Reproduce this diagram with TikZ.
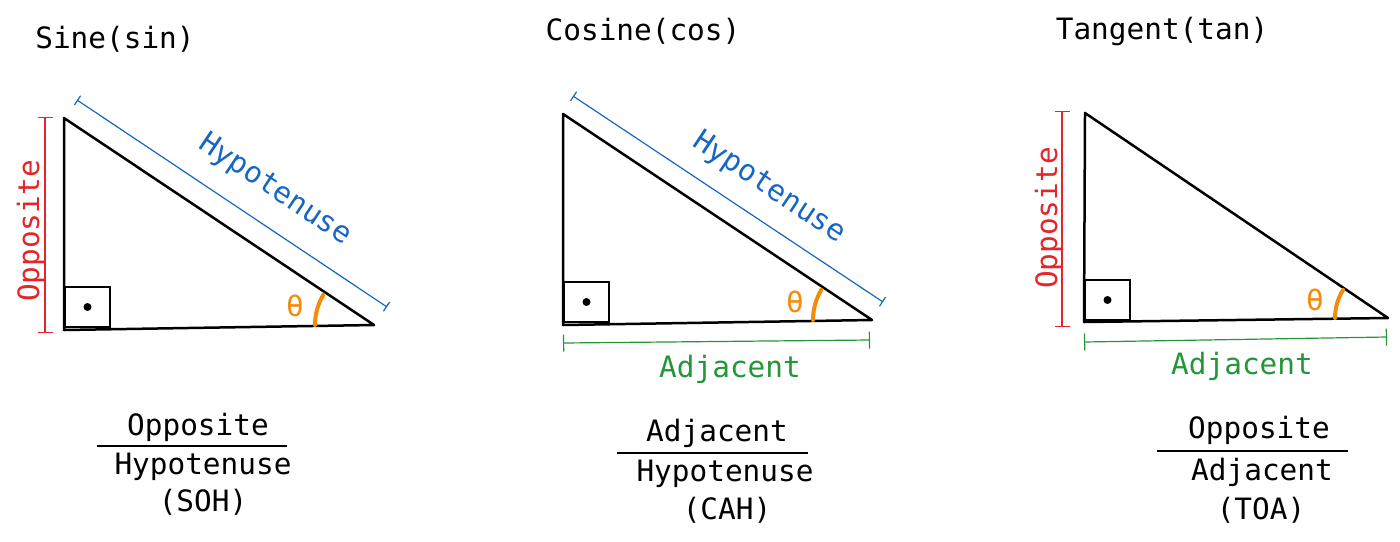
\documentclass[tikz,border=0pt]{standalone}
\usepackage{fontspec}
\setmonofont{DejaVu Sans Mono}
\usetikzlibrary{arrows.meta}
\definecolor{oppred}{RGB}{228,38,42}
\definecolor{hypblue}{RGB}{22,102,196}
\definecolor{adjgreen}{RGB}{36,150,56}
\definecolor{thetaorange}{RGB}{242,140,10}
\tikzset{
  txt/.style={font=\ttfamily\fontsize{14.7}{17}\selectfont, inner sep=0pt},
  side/.style={line width=1.25pt, line join=round},
  rightbox/.style={draw, line width=1pt, minimum width=22.5pt, minimum height=20pt, inner sep=0pt},
  oppdim/.style={draw=oppred, line width=0.6pt, {Bar[width=7.5pt]}-{Bar[width=7.5pt]}},
  hypdim/.style={draw=hypblue, line width=0.6pt, {Bar[width=5.5pt]}-{Bar[width=5.5pt]}},
  adjdim/.style={draw=adjgreen, line width=0.6pt, {Bar[width=8.5pt]}-{Bar[width=8.5pt]}},
  anglearc/.style={draw=thetaorange, line width=2pt, line cap=round},
  fracbar/.style={line width=0.6pt}
}
\begin{document}
\begin{tikzpicture}[x=0.5pt, y=-0.5pt]
  \useasboundingbox (0,0) rectangle (1400,541);

  % sine
  \node[txt] (sintitle) at (115,39) {Sine(sin)};
  \coordinate (sA) at (64,118);
  \coordinate (sB) at (64,330);
  \coordinate (sC) at (374,325);
  \draw[side] (sA) -- (sB) -- (sC) -- cycle;
  \node[rightbox, anchor=south west] (sbox) at (64,328) {};
  \fill (sbox.center) circle[radius=4];
  \coordinate (sopp1) at (45,117);
  \coordinate (sopp2) at (45,333);
  \draw[oppdim] (sopp1) -- (sopp2);
  \node[txt, text=oppred, rotate=90] (soppl) at (31,231) {Opposite};
  \coordinate (shyp1) at (77,100);
  \coordinate (shyp2) at (387,307);
  \draw[hypdim] (shyp1) -- (shyp2);
  \node[txt, text=hypblue, rotate=-33.7] (shypl) at (275,190) {Hypotenuse};
  \draw[anglearc] (sC) ++(180:59) arc[start angle=180, end angle=211, radius=59];
  \node[txt, text=thetaorange] (stheta) at (295,306) {θ};
  \node[txt] (snum) at (198,427) {Opposite};
  \coordinate (sbar1) at (97,446);
  \coordinate (sbar2) at (287,446);
  \draw[fracbar] (sbar1) -- (sbar2);
  \node[txt] (sden) at (203,467) {Hypotenuse};
  \node[txt] (sabbr) at (203,502) {(SOH)};

  % cosine
  \node[txt] (costitle) at (643,31) {Cosine(cos)};
  \coordinate (cA) at (563,114);
  \coordinate (cB) at (563,325);
  \coordinate (cC) at (872,320);
  \draw[side] (cA) -- (cB) -- (cC) -- cycle;
  \node[rightbox, anchor=south west] (cbox) at (563,323) {};
  \fill (cbox.center) circle[radius=4];
  \coordinate (chyp1) at (573,96);
  \coordinate (chyp2) at (883,302);
  \draw[hypdim] (chyp1) -- (chyp2);
  \node[txt, text=hypblue, rotate=-33.7] (chypl) at (769,188) {Hypotenuse};
  \coordinate (cadj1) at (563,343);
  \coordinate (cadj2) at (870,340);
  \draw[adjdim] (cadj1) -- (cadj2);
  \node[txt, text=adjgreen] (cadjl) at (730,369) {Adjacent};
  \draw[anglearc] (cC) ++(180:59) arc[start angle=180, end angle=211, radius=59];
  \node[txt, text=thetaorange] (ctheta) at (795,302) {θ};
  \node[txt] (cnum) at (717,433) {Adjacent};
  \coordinate (cbar1) at (617,453);
  \coordinate (cbar2) at (808,453);
  \draw[fracbar] (cbar1) -- (cbar2);
  \node[txt] (cden) at (725,474) {Hypotenuse};
  \node[txt] (cabbr) at (727,510) {(CAH)};

  % tangent
  \node[txt] (tantitle) at (1162,32) {Tangent(tan)};
  \coordinate (tA) at (1085,113);
  \coordinate (tB) at (1084,322);
  \coordinate (tC) at (1388,318);
  \draw[side] (tA) -- (tB) -- (tC) -- cycle;
  \node[rightbox, anchor=south west] (tbox) at (1084,321) {};
  \fill (tbox.center) circle[radius=4];
  \coordinate (topp1) at (1062,111);
  \coordinate (topp2) at (1062,327);
  \draw[oppdim] (topp1) -- (topp2);
  \node[txt, text=oppred, rotate=90] (toppl) at (1049,218) {Opposite};
  \coordinate (tadj1) at (1084,342);
  \coordinate (tadj2) at (1387,337);
  \draw[adjdim] (tadj1) -- (tadj2);
  \node[txt, text=adjgreen] (tadjl) at (1242,366) {Adjacent};
  \draw[anglearc] (tC) ++(180:53) arc[start angle=180, end angle=212, radius=53];
  \node[txt, text=thetaorange] (ttheta) at (1315,300) {θ};
  \node[txt] (tnum) at (1259,430) {Opposite};
  \coordinate (tbar1) at (1157,451);
  \coordinate (tbar2) at (1348,451);
  \draw[fracbar] (tbar1) -- (tbar2);
  \node[txt] (tden) at (1262,472) {Adjacent};
  \node[txt] (tabbr) at (1261,510) {(TOA)};
\end{tikzpicture}
\end{document}
